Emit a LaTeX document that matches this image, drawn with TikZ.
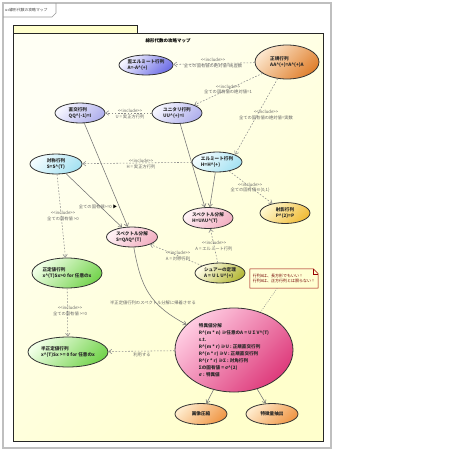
\documentclass[tikz,border=0pt]{standalone}
\usepackage{fontspec}
\setmainfont{Noto Sans CJK JP}
\usetikzlibrary{shapes.geometric,arrows.meta}
\newcommand\ct{\textasciicircum}
\newcommand\incl{\mbox{<}\mbox{<}include\mbox{>}\mbox{>}}
\newcommand\nodefont{\fontsize{4.6}{6}\selectfont\bfseries}
\newcommand\svdfont{\fontsize{4.6}{7}\selectfont\bfseries}
\newcommand\labfont{\fontsize{4.3}{5.2}\selectfont}
\definecolor{ornA}{HTML}{FCE6CC}\definecolor{ornB}{HTML}{E0802E}
\definecolor{skwA}{HTML}{F4F4FF}\definecolor{skwB}{HTML}{7070E6}
\definecolor{lavA}{HTML}{F6F6FF}\definecolor{lavB}{HTML}{B0B0EC}
\definecolor{cyaA}{HTML}{F2FCFF}\definecolor{cyaB}{HTML}{A6E2F2}
\definecolor{pnkA}{HTML}{FFF2F5}\definecolor{pnkB}{HTML}{F2B0C2}
\definecolor{prjA}{HTML}{FFF7CC}\definecolor{prjB}{HTML}{F0BC38}
\definecolor{schA}{HTML}{FFFDE6}\definecolor{schB}{HTML}{B4B838}
\definecolor{grnA}{HTML}{F0FFE6}\definecolor{grnB}{HTML}{76D450}
\definecolor{svdA}{HTML}{FFCCE2}\definecolor{svdB}{HTML}{DE3C7C}
\definecolor{smlA}{HTML}{FFEBCC}\definecolor{smlB}{HTML}{F09848}
\definecolor{bgA}{HTML}{FFFFF4}\definecolor{bgB}{HTML}{FFFFCC}
\begin{document}
\begin{tikzpicture}[x=1pt,y=-1pt,
  ell/.style={ellipse, draw=black!80, line width=0.8pt, inner sep=0pt},
  grad/.style 2 args={top color=#1, bottom color=#2, shading angle=45},
  txt/.style={font=\nodefont, align=left, text=black!85, inner sep=0pt},
  lab/.style={font=\labfont, text=black!60, align=center, inner sep=0pt},
  arr/.style={-{Straight Barb[length=3pt,width=4.5pt]}, line width=0.55pt},
  inc/.style={arr, draw=black!45, dash pattern=on 1.6pt off 1.6pt},
  sol/.style={arr, draw=black!55},
]
\useasboundingbox (0,0) rectangle (453,453);
% outer frame
\draw[black!25, line width=1.2pt, fill=white] (3,3) rectangle (331,448);
\draw[black!40, line width=0.7pt] (3,17) -- (52,17) -- (56,13) -- (56,3);
\node[font=\fontsize{3.8}{4.5}\selectfont, text=black!75, anchor=west, inner sep=0pt] (tab) at (5,10.5) {uc線形代数の攻略マップ};
% package
\draw[black!85, line width=0.9pt, fill=bgB] (13,25) rectangle (137,33);
\draw[black!85, line width=0.9pt, top color=bgA, bottom color=bgB, shading angle=45] (13,33) rectangle (323,441);
\node[font=\fontsize{4.5}{5}\selectfont\bfseries, inner sep=0pt] (title) at (168,41) {線形代数の攻略マップ};
% nodes
\node[ell, grad={ornA}{ornB}, minimum width=64pt, minimum height=34pt, label={[txt]center:{正規行列\\AA\ct(+)=A\ct(+)A}}] (normal) at (287,62) {};
\node[ell, grad={skwA}{skwB}, minimum width=54pt, minimum height=20pt, label={[txt]center:{歪エルミート行列\\A=-A\ct(+)}}] (skew) at (146,65) {};
\node[ell, grad={lavA}{lavB}, minimum width=50pt, minimum height=20pt, label={[txt]center:{直交行列\\QQ\ct(-1)=I}}] (orth) at (80,113) {};
\node[ell, grad={lavA}{lavB}, minimum width=50pt, minimum height=21pt, label={[txt]center:{ユニタリ行列\\UU\ct(+)=I}}] (unitary) at (177,113) {};
\node[ell, grad={cyaA}{cyaB}, minimum width=52pt, minimum height=20pt, label={[txt]center:{対称行列\\S=S\ct(T)}}] (sym) at (56,164) {};
\node[ell, grad={cyaA}{cyaB}, minimum width=50pt, minimum height=20pt, label={[txt]center:{エルミート行列\\H=H\ct(+)}}] (herm) at (217,162) {};
\node[ell, grad={pnkA}{pnkB}, minimum width=50pt, minimum height=21pt, label={[txt]center:{スペクトル分解\\H=UΛU\ct(T)}}] (specH) at (208,218) {};
\node[ell, grad={prjA}{prjB}, minimum width=50pt, minimum height=21pt, label={[txt]center:{射影行列\\P\ct(2)=P}}] (proj) at (285,213) {};
\node[ell, grad={pnkA}{pnkB}, minimum width=51pt, minimum height=20pt, label={[txt]center:{スペクトル分解\\S=QΛQ\ct(T)}}] (specS) at (132,237) {};
\node[ell, grad={schA}{schB}, minimum width=50pt, minimum height=20pt, label={[txt]center:{シュアーの定理\\A = U L U\ct(+)}}] (schur) at (220,273) {};
\node[ell, grad={grnA}{grnB}, minimum width=70pt, minimum height=30pt, label={[txt]center:{正定値行列\\x\ct(T)Sx>0 for 任意のx}}] (posdef) at (67,273) {};
\node[ell, grad={grnA}{grnB}, minimum width=80pt, minimum height=30pt, label={[txt]center:{半正定値行列\\x\ct(T)Sx >= 0 for 任意のx}}] (semidef) at (68,352) {};
\node[ell, grad={svdA}{svdB}, minimum width=118pt, minimum height=84pt, label={[txt, font=\svdfont]center:{特異値分解\\R\ct(m * n) ∋任意のA = U Σ V\ct(T)\\s.t.\\R\ct(m * r) ∋U : 正規直交行列\\R\ct(n * r) ∋V : 正規直交行列\\R\ct(r * r) ∋Σ : 対角行列\\Σの固有値 = σ\ct(2)\\σ : 特異値}}] (svd) at (234,350) {};
\node[ell, grad={smlA}{smlB}, minimum width=52pt, minimum height=21pt, label={[txt]center:{画像圧縮}}] (img) at (201,414) {};
\node[ell, grad={smlA}{smlB}, minimum width=52pt, minimum height=21pt, label={[txt]center:{特徴量抽出}}] (feat) at (272,414) {};
% note
\node[font=\fontsize{4}{5.2}\selectfont, text=red!45!black, align=left, minimum width=68pt, minimum height=19pt, inner sep=1.5pt] (note) at (284,278.5) {行列Aは、長方形でもいい！\\行列Aは、正方行列とは限らない！};
\draw[red!60!black, line width=0.5pt] (note.north west) -- ([xshift=-5pt]note.north east) -- ([yshift=-5pt]note.north east) -- (note.south east) -- (note.south west) -- cycle;
\draw[red!60!black, line width=0.5pt] ([xshift=-5pt]note.north east) -- ([xshift=-5pt,yshift=-5pt]note.north east) -- ([yshift=-5pt]note.north east);
% connectors
\draw[inc] (normal) -- (skew);
\draw[inc] (normal) -- (unitary);
\draw[inc] (normal) -- (herm.north east);
\draw[inc] (unitary) -- (orth);
\draw[inc] (herm) -- (sym);
\draw[inc] (herm) -- (proj);
\draw[sol] (orth) -- (specS);
\draw[sol] (sym) -- (specS);
\draw[sol] (unitary) -- (specH);
\draw[sol] (herm) -- (specH);
\draw[inc] (schur) -- (specH);
\draw[inc] (schur) -- (specS);
\draw[inc] (sym) -- (posdef);
\draw[inc] (posdef) -- (semidef);
\draw[sol] (specS) .. controls (141,288) and (150,305) .. (svd);
\draw[inc] (svd) -- (semidef);
\draw[black!45, line width=0.6pt, dash pattern=on 0.8pt off 1.4pt] (note) -- (svd);
\draw[sol] (svd) -- (img);
\draw[sol] (svd) -- (feat);
% labels
\node[lab] (l1) at (213,63) {\incl\\全ての固有値の絶対値=純虚数};
\node[lab] (l2) at (228,89.5) {\incl\\全ての固有値の絶対値=1};
\node[lab] (l3) at (266,115) {\incl\\全ての固有値の絶対値=実数};
\node[lab] (l4) at (130,114) {\incl\\U = 実正方行列};
\node[lab] (l5) at (141,164) {\incl\\H = 実正方行列};
\node[lab] (l6) at (250,188) {\incl\\全ての固有値∈\{0,1\}};
\node[lab] (l8) at (98,207) {全ての固有値>=0 \textcolor{black}{▶}};
\node[lab] (l11) at (214,246) {\incl\\A = エルミート行列};
\node[lab] (l12) at (178,256) {\incl\\A = 対称行列};
\node[lab] (l13) at (63,216) {\incl\\全ての固有値 >0};
\node[lab] (l14) at (70,311) {\incl\\全ての固有値 >=0};
\node[lab] (l15) at (153,303) {半正定値行列のスペクトル分解に帰着させる};
\node[lab] (l16) at (142,355) {利用する};
\end{tikzpicture}
\end{document}
